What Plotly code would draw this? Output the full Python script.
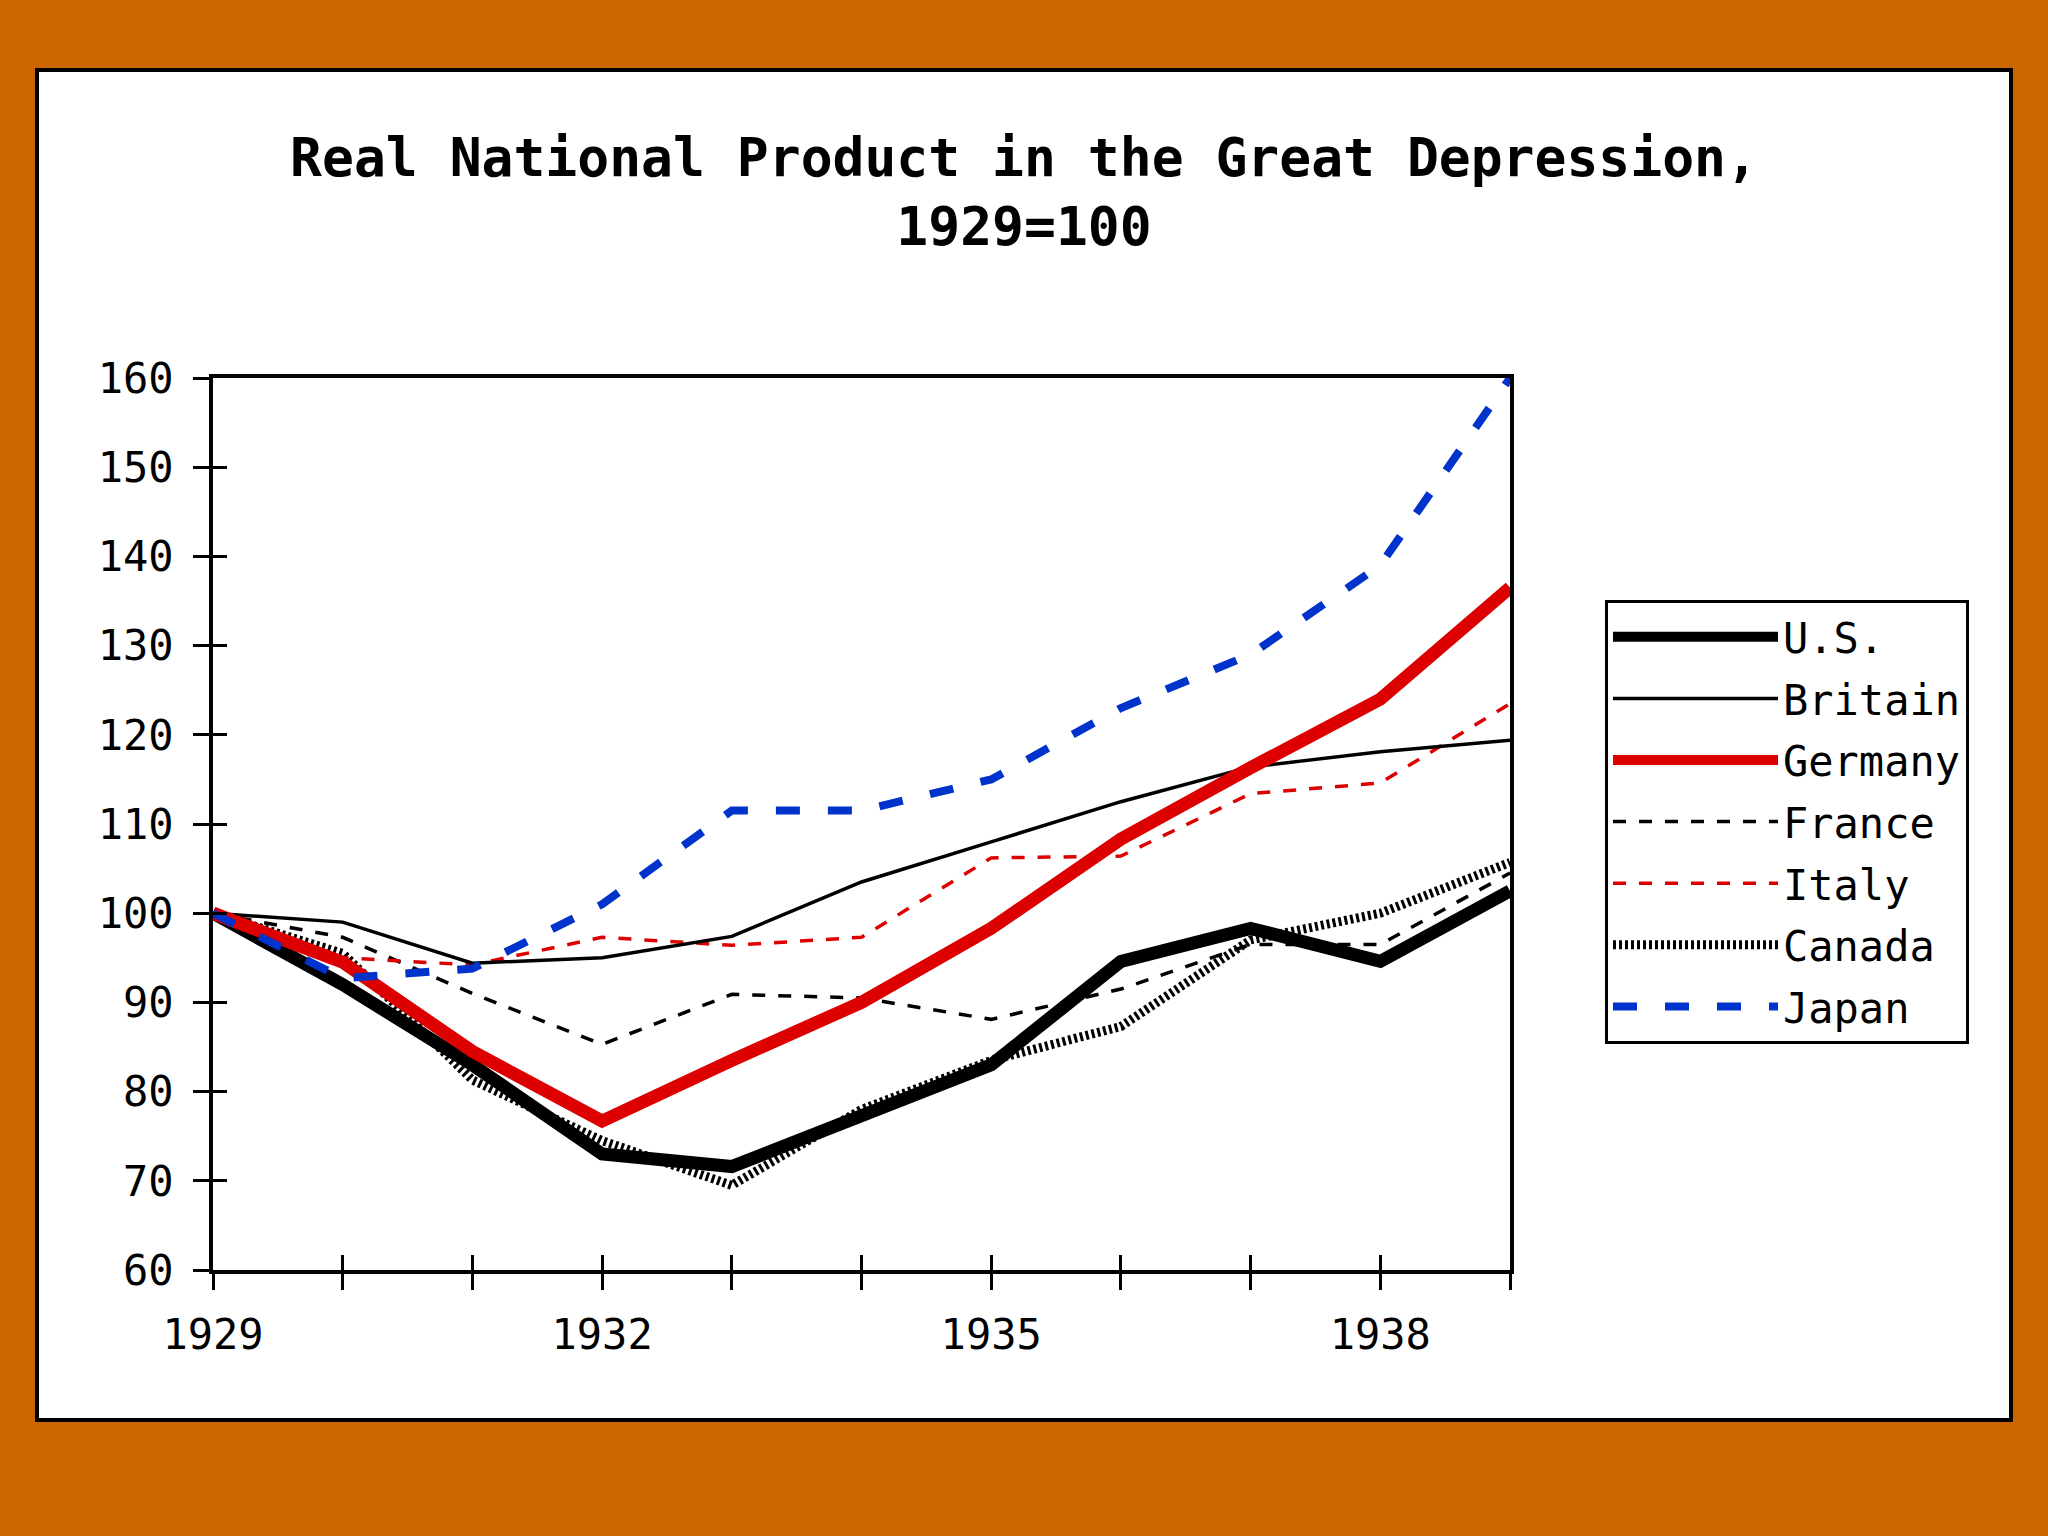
import plotly.graph_objects as go

# ---- data (1929 = 100) ----
years = [1929, 1930, 1931, 1932, 1933, 1934, 1935, 1936, 1937, 1938, 1939]
x_tick_labels = ["1929", "", "", "1932", "", "", "1935", "", "", "1938", ""]
y_tick_values = [60, 70, 80, 90, 100, 110, 120, 130, 140, 150, 160]

us = [100, 92.0, 83.0, 73.0, 71.6, 77.3, 83.0, 94.6, 98.3, 94.6, 102.5]
britain = [100, 99.0, 94.4, 95.0, 97.4, 103.5, 108.0, 112.5, 116.4, 118.1, 119.4]
germany = [100, 94.5, 84.5, 76.7, 83.5, 90.0, 98.3, 108.3, 116.3, 124.0, 136.5]
france = [100, 97.3, 91.0, 85.3, 90.9, 90.5, 88.1, 91.5, 96.5, 96.5, 104.5]
italy = [100, 95.0, 94.2, 97.3, 96.4, 97.3, 106.2, 106.4, 113.4, 114.6, 123.5]
canada = [100, 95.5, 81.3, 74.5, 69.5, 78.0, 83.5, 87.3, 97.0, 100.0, 105.7]
japan = [100, 92.7, 93.8, 101.0, 111.5, 111.5, 115.0, 123.0, 129.0, 139.0, 160.0]

FONT = "DejaVu Sans Mono"
ORANGE = "#CC6600"
RED = "#DD0000"
BLUE = "#0033CC"

# (name, values, line style, legend rank) in drawing order
series = [
    ("Canada", canada, dict(color="#000000", width=9, dash="3px,3px"), 6),
    ("France", france, dict(color="#000000", width=3.5, dash="13px,13px"), 4),
    ("Italy", italy, dict(color=RED, width=3.5, dash="13px,13px"), 5),
    ("Britain", britain, dict(color="#000000", width=3.5), 2),
    ("U.S.", us, dict(color="#000000", width=13), 1),
    ("Germany", germany, dict(color=RED, width=13), 3),
    ("Japan", japan, dict(color=BLUE, width=8, dash="24px,28px"), 7),
]

fig = go.Figure()
for name, vals, line, rank in series:
    fig.add_trace(go.Scatter(
        x=years, y=vals, name=name, mode="lines", line=line,
        legendrank=rank, legendgroup=name, hoverinfo="skip",
    ))

# invisible trace carrying the overlaid axes used for the inner half of the cross ticks
fig.add_trace(go.Scatter(
    x=years[:1], y=us[:1], xaxis="x2", yaxis="y2", mode="lines",
    line=dict(width=0), showlegend=False, hoverinfo="skip",
))

W, H = 2048, 1536
L, R, T, B = 213, 538, 378, 266
pw, ph = W - L - R, H - T - B

def px_x(px):
    return (px - L) / pw

def px_y(py):
    return (H - B - py) / ph

fig.update_layout(
    width=W, height=H,
    paper_bgcolor=ORANGE, plot_bgcolor="white",
    margin=dict(l=L, r=R, t=T, b=B, autoexpand=False),
    title=dict(
        text="Real National Product in the Great Depression,<br>1929=100",
        font=dict(family=FONT, size=53, color="black", weight="bold"),
        x=0.5, xref="container", xanchor="center",
        y=1 - 176 / H, yref="container", yanchor="top",
    ),
    font=dict(family=FONT, color="black"),
    shapes=[dict(
        type="rect", xref="paper", yref="paper", layer="below",
        x0=px_x(37), x1=px_x(2011), y0=px_y(1420), y1=px_y(70),
        fillcolor="white", line=dict(color="black", width=4),
    )],
    xaxis=dict(
        range=[years[0], years[-1]], tickvals=years, ticktext=x_tick_labels,
        showline=True, linewidth=4, linecolor="black", mirror=True,
        ticks="outside", ticklen=16, tickwidth=3, tickcolor="black",
        showgrid=False, zeroline=False, ticklabelstandoff=9,
        tickfont=dict(family=FONT, size=42, color="black"),
    ),
    yaxis=dict(
        range=[60, 160], tickvals=y_tick_values,
        showline=True, linewidth=4, linecolor="black", mirror=True,
        ticks="outside", ticklen=16, tickwidth=3, tickcolor="black",
        showgrid=False, zeroline=False, ticklabelstandoff=11,
        tickfont=dict(family=FONT, size=42, color="black"),
    ),
    xaxis2=dict(
        overlaying="x", anchor="y2", side="bottom",
        range=[years[0], years[-1]], tickvals=years,
        ticks="inside", ticklen=15, tickwidth=3, tickcolor="black",
        showticklabels=False, showline=False, showgrid=False, zeroline=False,
    ),
    yaxis2=dict(
        overlaying="y", anchor="x2", side="left",
        range=[60, 160], tickvals=y_tick_values,
        ticks="inside", ticklen=14, tickwidth=3, tickcolor="black",
        showticklabels=False, showline=False, showgrid=False, zeroline=False,
    ),
    legend=dict(
        x=px_x(1605), y=px_y(600), xanchor="left", yanchor="top",
        bgcolor="white", bordercolor="black", borderwidth=3,
        font=dict(family=FONT, size=42, color="black"),
        itemwidth=165, tracegroupgap=4, traceorder="grouped",
    ),
    showlegend=True,
)

fig.write_html("out.html")
